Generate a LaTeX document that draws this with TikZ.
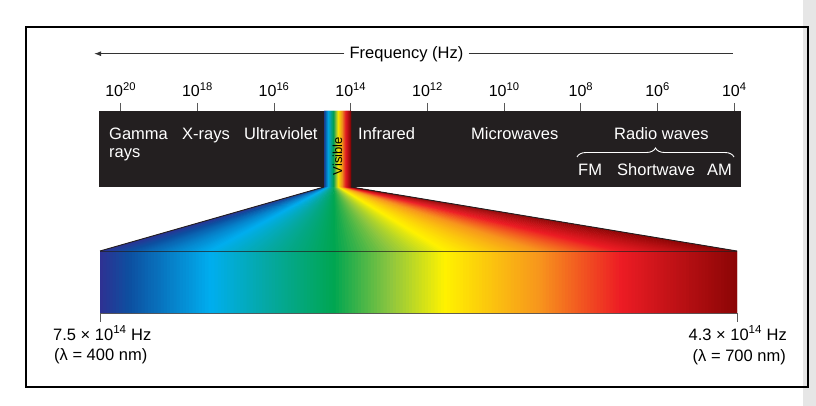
\documentclass[tikz,border=0pt]{standalone}
\usepackage{fontspec}
\setmainfont{Liberation Sans}
\usetikzlibrary{arrows.meta,decorations.pathreplacing,positioning}

\definecolor{barblack}{HTML}{231F20}
\definecolor{stripgray}{HTML}{E6E6E6}
% spectrum colour stops (violet -> dark red)
\definecolor{sp0}{HTML}{2E3192}
\definecolor{sp1}{HTML}{0D4FA0}
\definecolor{sp2}{HTML}{00AEEF}
\definecolor{sp3}{HTML}{05A8A0}
\definecolor{sp4}{HTML}{00A651}
\definecolor{sp5}{HTML}{8DC63F}
\definecolor{sp6}{HTML}{FFF200}
\definecolor{sp7}{HTML}{F7941D}
\definecolor{sp8}{HTML}{ED1C24}
\definecolor{sp9}{HTML}{8A0505}

% mix two stops: #1 value, #2/#3 segment ends, #4/#5 colours
\newcommand\mixspec[5]{%
  \pgfmathtruncatemacro\specp{(#1-#2)/(#3-#2)*100}%
  \colorlet{slicecol}{#5!\specp!#4}}
% colour at position #1 (0..1000)
\newcommand\setspec[1]{%
  \ifnum#1<45 \mixspec{#1}{0}{45}{sp0}{sp1}%
  \else\ifnum#1<173 \mixspec{#1}{45}{173}{sp1}{sp2}%
  \else\ifnum#1<265 \mixspec{#1}{173}{265}{sp2}{sp3}%
  \else\ifnum#1<367 \mixspec{#1}{265}{367}{sp3}{sp4}%
  \else\ifnum#1<455 \mixspec{#1}{367}{455}{sp4}{sp5}%
  \else\ifnum#1<540 \mixspec{#1}{455}{540}{sp5}{sp6}%
  \else\ifnum#1<690 \mixspec{#1}{540}{690}{sp6}{sp7}%
  \else\ifnum#1<816 \mixspec{#1}{690}{816}{sp7}{sp8}%
  \else \mixspec{#1}{816}{1000}{sp8}{sp9}%
  \fi\fi\fi\fi\fi\fi\fi\fi}

\begin{document}
\begin{tikzpicture}[x=1pt, y=-1pt,
    lbl/.style={inner sep=0pt, font=\fontsize{16.5}{18}\selectfont},
    barlbl/.style={lbl, text=white, anchor=base west},
    ticklbl/.style={inner sep=0pt, anchor=base, font=\fontsize{16}{18}\selectfont},
    tickline/.style={draw=black!65, line width=1pt},
    edge/.style={draw=barblack, line width=0.9pt},
    arrow/.style={-{Latex[length=7pt,width=5pt]}, line width=1.1pt, draw=black!80},
]
\useasboundingbox (0,0) rectangle (816,406);

% grey strip on the right
\fill[stripgray] (803,0) rectangle (816,406);

% Frequency axis
\node[lbl, inner xsep=5pt, anchor=base] (freq) at (406.5,59) {Frequency (Hz)};
\coordinate (fl) at (94,53.7);
\coordinate (fr) at (733,53.7);
\draw[arrow] (freq.west |- fl) -- (fl);
\draw[line width=1.1pt, draw=black!80] (freq.east |- fr) -- (fr);

% black band with ticks
\fill[barblack] (99,111) rectangle (741,187);
\foreach \e [count=\k from 0] in {20,18,...,4} {
    \pgfmathsetmacro\tx{120.7+76.7*\k}
    \node[ticklbl] (t\e) at (\tx,97) {10\textsuperscript{\e}};
    \draw[tickline] (\tx,103) -- (\tx,111);
}

% spectrum: visible strip, fan and wide bar, in thin slices
\coordinate (sa) at (324,187);
\coordinate (sb) at (351,187);
\coordinate (ra) at (100,251);
\coordinate (rb) at (737,251);
\coordinate (rc) at (100,313);
\coordinate (rd) at (737,313);
\foreach \i in {0,...,199} {
    \pgfmathsetmacro\ta{\i/200}
    \pgfmathsetmacro\tb{min((\i+2)/200,1)}
    \pgfmathtruncatemacro\tm{(\i+0.5)*5}
    \setspec{\tm}
    \fill[slicecol] ({324+27*\ta},111) -- ({324+27*\tb},111) -- ({324+27*\tb},187)
        -- ({100+637*\tb},251) -- ({100+637*\tb},313) -- ({100+637*\ta},313)
        -- ({100+637*\ta},251) -- ({324+27*\ta},187) -- cycle;
}
\draw[edge] (sa) -- (ra);
\draw[edge] (sb) -- (rb);
\draw[edge, draw opacity=0.7] (ra) -- (rb);
\draw[edge, draw opacity=0.7] (rc) -- (rd);
\node[rotate=90, inner sep=0pt, font=\fontsize{13}{13}\selectfont] (vis) at (337.5,156) {Visible};

% band labels
\node[barlbl] (gamma) at (109,140) {Gamma};
\node[barlbl] (rays) at ([yshift=-18pt]gamma.base west) {rays};
\node[barlbl] (xrays) at (182,140) {X-rays};
\node[barlbl] (uv) at (244,140) {Ultraviolet};
\node[barlbl] (ir) at (358,140) {Infrared};
\node[barlbl] (micro) at (471,140) {Microwaves};
\node[barlbl] (radio) at (614,140) {Radio waves};
\node[barlbl] (fm) at (578,176) {FM};
\node[barlbl] (sw) at (617,176) {Shortwave};
\node[barlbl] (am) at (707,176) {AM};
\coordinate (bl) at (577,157);
\coordinate (br) at (734,157);
\draw[white, line width=0.9pt, decorate, decoration={brace, amplitude=9pt}] (bl) -- (br);

% end values
\draw[tickline] (rc) -- ++(0,9);
\draw[tickline] (rd) -- ++(0,9);
\node[lbl, anchor=base west] (hzlo) at (53,340) {7.5 × 10\textsuperscript{14} Hz};
\node[lbl, anchor=base west] (wllo) at (54,360) {(λ = 400 nm)};
\node[lbl, anchor=base east] (hzhi) at (787,340) {4.3 × 10\textsuperscript{14} Hz};
\node[lbl, anchor=base east] (wlhi) at (786,361) {(λ = 700 nm)};

% frame
\draw[line width=1.8pt] (26,27) rectangle (808,387);

\end{tikzpicture}
\end{document}
